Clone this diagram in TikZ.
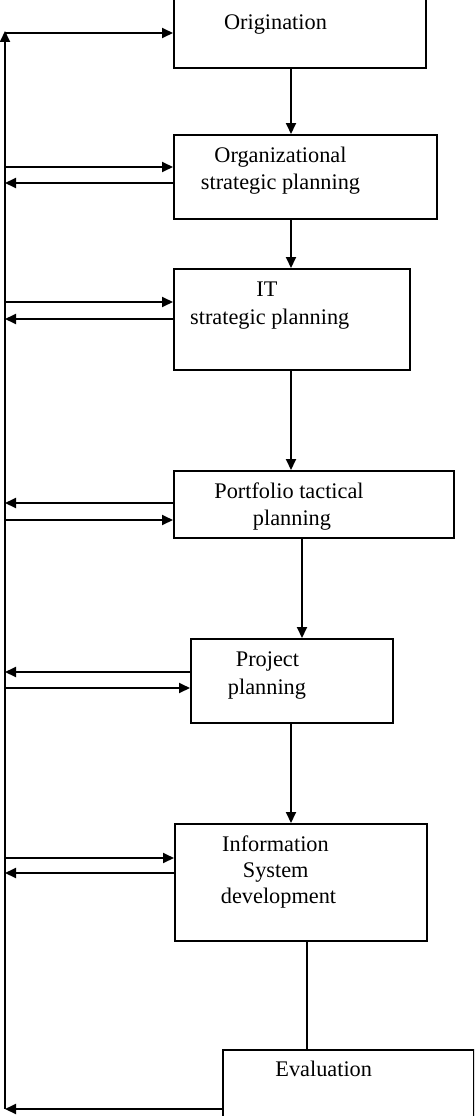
\documentclass[tikz,border=0pt]{standalone}
\usepackage{fontspec}
\setmainfont{Liberation Serif}
\usetikzlibrary{arrows.meta}
\begin{document}
\begin{tikzpicture}[x=1pt,y=-1pt,
  box/.style={draw,line width=1.9pt,inner sep=0pt,anchor=north west},
  txt/.style={anchor=base,inner sep=0pt,font=\fontsize{22.3}{26.5}\selectfont},
  arr/.style={line width=1.9pt,-{Triangle[length=11pt,width=10pt]}},
  ln/.style={line width=1.9pt}]
\useasboundingbox (0,0) rectangle (474,1116);
\clip (0,0) rectangle (474,1116);
% boxes
\node[box,minimum width=252pt,minimum height=77pt] (b1) at (173,-10) {};
\node[box,minimum width=263pt,minimum height=84pt] (b2) at (173,134) {};
\node[box,minimum width=236pt,minimum height=101pt] (b3) at (173,268) {};
\node[box,minimum width=280pt,minimum height=67pt] (b4) at (173,470) {};
\node[box,minimum width=202pt,minimum height=84pt] (b5) at (190,638) {};
\node[box,minimum width=252pt,minimum height=117pt] (b6) at (174,823) {};
\node[box,minimum width=251pt,minimum height=90pt] (b7) at (222,1049) {};
% texts
\node[txt] (t1) at (275.5,29.3) {Origination};
\node[txt] (t2a) at (280.5,162.7) {Organizational};
\node[txt] (t2b) at (280.5,189.3) {strategic planning};
\node[txt] (t3a) at (267,296.7) {IT};
\node[txt] (t3b) at (269.7,324) {strategic planning};
\node[txt] (t4a) at (289,498.3) {Portfolio tactical};
\node[txt] (t4b) at (292,525) {planning};
\node[txt] (t5a) at (267.5,666.7) {Project};
\node[txt] (t5b) at (267,694) {planning};
\node[txt] (t6a) at (275.5,851.7) {Information};
\node[txt] (t6b) at (275.7,877.3) {System};
\node[txt] (t6c) at (278.5,903.3) {development};
\node[txt] (t7) at (323.7,1076.7) {Evaluation};
% main flow
\coordinate (xa) at (291,0);
\coordinate (xb) at (302,0);
\coordinate (xc) at (307,0);
\draw[arr] (xa |- b1.south) -- (xa |- b2.north);
\draw[arr] (xa |- b2.south) -- (xa |- b3.north);
\draw[arr] (xa |- b3.south) -- (xa |- b4.north);
\draw[arr] (xb |- b4.south) -- (xb |- b5.north);
\draw[arr] (xa |- b5.south) -- (xa |- b6.north);
\draw[ln] (xc |- b6.south) -- (xc |- b7.north);
% feedback spine
\coordinate (sbot) at (5,1109);
\coordinate (stop) at (5,31);
\coordinate (s1) at (5,33);
\draw[arr] (sbot) -- (stop);
\draw[arr] (s1) -- (s1 -| b1.west);
% side arrows
\coordinate (s2a) at (5,167);
\coordinate (s2b) at (5,183);
\draw[arr] (s2a) -- (s2a -| b2.west);
\draw[arr] (s2b -| b2.west) -- (s2b);
\coordinate (s3a) at (5,302);
\coordinate (s3b) at (5,319);
\draw[arr] (s3a) -- (s3a -| b3.west);
\draw[arr] (s3b -| b3.west) -- (s3b);
\coordinate (s4a) at (5,503);
\coordinate (s4b) at (5,520);
\draw[arr] (s4a -| b4.west) -- (s4a);
\draw[arr] (s4b) -- (s4b -| b4.west);
\coordinate (s5a) at (5,672);
\coordinate (s5b) at (5,688);
\draw[arr] (s5a -| b5.west) -- (s5a);
\draw[arr] (s5b) -- (s5b -| b5.west);
\coordinate (s6a) at (5,858);
\coordinate (s6b) at (5,873);
\draw[arr] (s6a) -- (s6a -| b6.west);
\draw[arr] (s6b -| b6.west) -- (s6b);
\draw[arr] (sbot -| b7.west) -- (sbot);
\end{tikzpicture}
\end{document}
